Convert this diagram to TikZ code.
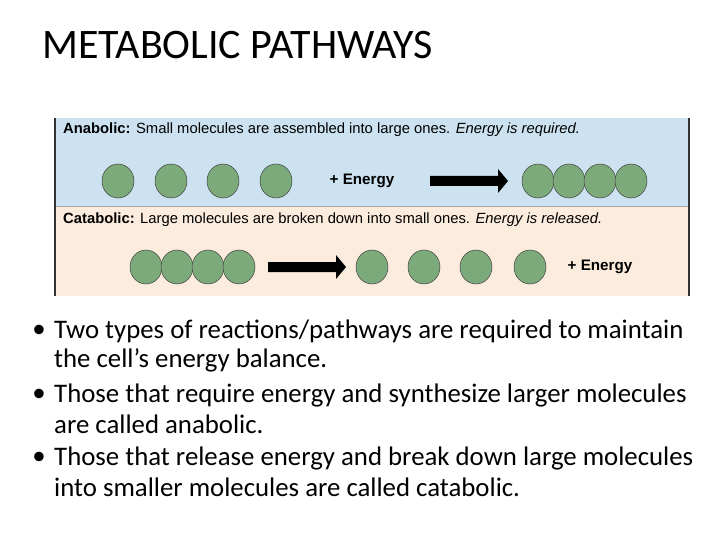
\documentclass[tikz,border=0pt]{standalone}
\usepackage{fontspec}
\usetikzlibrary{shapes.geometric,calc}
\setmainfont{Carlito}
\newfontfamily\arial{Liberation Sans}
\definecolor{topbg}{RGB}{204,226,240}
\definecolor{botbg}{RGB}{252,236,222}
\definecolor{mol}{RGB}{124,170,122}
\begin{document}
\begin{tikzpicture}[x=1pt,y=-1pt,
  molec/.style={ellipse,draw=black!75,line width=0.5pt,fill=mol,minimum width=32pt,minimum height=34pt,inner sep=0pt},
  lbl/.style={anchor=west,inner sep=0pt,font=\arial\fontsize{14.8}{17}\selectfont},
  bul/.style={anchor=west,inner sep=0pt,font=\fontsize{26.8}{30}\selectfont}]
\useasboundingbox (0,0) rectangle (720,540);
\fill[white] (0,0) rectangle (720,540);
\node[anchor=west,inner sep=0pt,font=\fontsize{42}{48}\selectfont] (title) at (42,45) {METABOLIC PATHWAYS};
\fill[topbg] (55,118) rectangle (689,207);
\fill[botbg] (55,207) rectangle (689,296);
\draw[gray!70,line width=1pt] (55,207) -- (689,207);
\draw[black!80,line width=1.5pt] (55,118) -- (55,296);
\draw[black!80,line width=1.5pt] (689,118) -- (689,296);
\node[lbl] (ah) at (63,130) {\textbf{Anabolic:} Small molecules are assembled into large ones. \textit{Energy is required.}};
\node[lbl] (ch) at (63,220) {\textbf{Catabolic:} Large molecules are broken down into small ones. \textit{Energy is released.}};
\foreach \x/\n in {118/a1,171/a2,223/a3,276/a4,538/b1,569/b2,600/b3,631/b4}
  \node[molec] (\n) at (\x,181) {};
\foreach \x/\n in {146/c1,177/c2,208/c3,239/c4,372/d1,424/d2,476/d3,530/d4}
  \node[molec] (\n) at (\x,267) {};
\node[lbl,anchor=center,font=\arial\fontsize{15.2}{17}\selectfont] (e1) at (362,181) {\textbf{+ Energy}};
\node[lbl,anchor=center,font=\arial\fontsize{15.2}{17}\selectfont] (e2) at (600,267) {\textbf{+ Energy}};
\coordinate (p1) at (430,181); \coordinate (q1) at (508,181);
\coordinate (p2) at (268,267); \coordinate (q2) at (346,267);
\foreach \p/\q in {p1/q1,p2/q2}
  \fill[black] ($(\p)+(0,-5)$) -- ($(\q)+(-10,-5)$) -- ($(\q)+(-10,-12)$) -- (\q) -- ($(\q)+(-10,12)$) -- ($(\q)+(-10,5)$) -- ($(\p)+(0,5)$) -- cycle;
\foreach \y/\t/\b in {331/{Two types of reactions/pathways are required to maintain}/1,360/{the cell’s energy balance.}/0,395/{Those that require energy and synthesize larger molecules}/1,424/{are called anabolic.}/0,458/{Those that release energy and break down large molecules}/1,487/{into smaller molecules are called catabolic.}/0}{
  \ifnum\b=1 \node[bul,anchor=center] at (39,\y) {•};\fi
  \node[bul] at (54,\y) {\t};}
\end{tikzpicture}
\end{document}
